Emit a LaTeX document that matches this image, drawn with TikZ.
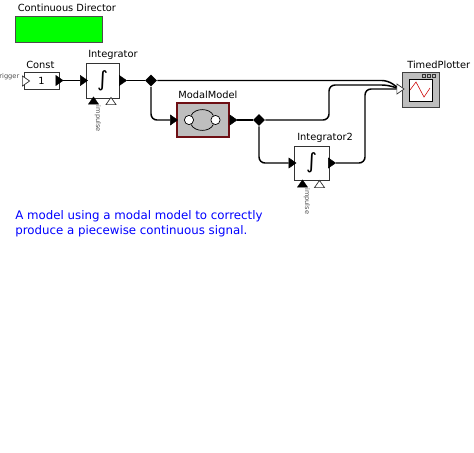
\documentclass[tikz,border=0pt]{standalone}
\usepackage{xcolor}
\usepackage{fontspec}
\setmainfont{DejaVu Sans}
\usetikzlibrary{shapes.geometric}
\definecolor{directorgreen}{RGB}{0,255,0}
\definecolor{modalred}{RGB}{110,15,20}
\definecolor{actorgray}{RGB}{190,190,190}
\tikzset{
  actorbox/.style={draw=black!80,fill=white,line width=0.4pt,inner sep=0pt},
  wire/.style={draw=black,line width=1.05pt,rounded corners=1.5mm},
  solidport/.style={isosceles triangle,isosceles triangle apex angle=70,draw=black,fill=black,inner sep=0pt,minimum height=1.8mm,minimum width=2mm,line width=0.3pt},
  openport/.style={solidport,fill=white,draw=black!80,line width=0.5pt},
  dot/.style={diamond,fill=black,inner sep=0pt,minimum size=3mm},
}
\newcommand{\tname}[4]{\node[anchor=west,inner sep=0pt,font=\fontsize{7}{8}\selectfont] (#1) at (#2,#3) {#4};}
\newcommand{\tport}[4]{\node[inner sep=0pt,font=\fontsize{4.7}{5}\selectfont,text=black!70,#4] (#1) at #2 {#3};}
\begin{document}
\begin{tikzpicture}[x=0.25mm,y=-0.25mm]
\useasboundingbox (0,0) rectangle (474,452);
% ---- director
\node[draw=black!70,fill=directorgreen,minimum width=21.75mm,minimum height=6.5mm,inner sep=0pt,line width=0.4pt] (director) at (58.5,29) {};
\tname{directorname}{17.5}{8}{Continuous Director}

% ---- actors
\node[actorbox,minimum width=8.75mm,minimum height=4.25mm,font=\fontsize{7}{8}\selectfont] (const) at (41.5,80.5) {1};
\node[actorbox,minimum width=8.25mm,minimum height=8.75mm,font=\fontsize{15}{15}\selectfont] (integrator) at (102.5,80.5) {∫};
\node[actorbox,minimum width=8.75mm,minimum height=8.5mm,font=\fontsize{15}{15}\selectfont] (integratorb) at (311.5,163) {∫};
\node[draw=modalred,fill=actorgray,line width=1.7pt,minimum width=13.1mm,minimum height=8.5mm,inner sep=0pt] (modal) at (203,120) {};
\node[draw=black!75,fill=actorgray,line width=0.6pt,minimum width=9.25mm,minimum height=8.75mm,inner sep=0pt] (plotter) at (420.5,89.5) {};
\node[draw=black,fill=white,line width=0.6pt,minimum width=5.75mm,minimum height=5.5mm,inner sep=0pt] (screen) at (420.5,90) {};

% ---- plotter icon
\coordinate (traceA) at (410,90);
\coordinate (traceB) at (416,82);
\coordinate (traceC) at (424,97);
\coordinate (traceD) at (430,88);
\draw[red!80!black,line width=0.4pt] (traceA) -- (traceB) -- (traceC) -- (traceD);
\foreach \i/\x in {1/424,2/429,3/434}
  \node[draw=black!80,fill=actorgray,line width=0.3pt,minimum size=0.8mm,inner sep=0pt] (button\i) at (\x,75.5) {};

% ---- modal icon
\node[circle,draw=black,fill=white,line width=0.5pt,minimum size=2.3mm,inner sep=0pt] (stateA) at (189,120) {};
\node[circle,draw=black,fill=white,line width=0.5pt,minimum size=2.3mm,inner sep=0pt] (stateB) at (215.5,120) {};
\draw[black,line width=0.5pt] (stateA) to[out=65,in=115] (stateB);
\draw[black,line width=0.5pt] (stateA) to[out=-65,in=-115] (stateB);

% ---- ports
\node[openport] (constin) at (25,81) {};
\node[solidport] (constout) at (58.5,80.5) {};
\node[solidport] (intin) at (83,80.5) {};
\node[solidport] (intout) at (122,80.5) {};
\node[solidport,shape border rotate=90] (intimp) at (93.5,101.5) {};
\node[openport,shape border rotate=90] (inttrig) at (111,102) {};
\node[solidport] (modalin) at (173,120) {};
\node[solidport] (modalout) at (232.5,120) {};
\node[solidport] (intbin) at (291.5,163) {};
\node[solidport] (intbout) at (331,163) {};
\node[solidport,shape border rotate=90] (intbimp) at (302.5,184.5) {};
\node[openport,shape border rotate=90] (intbtrig) at (319.5,185) {};
\node[openport] (plotin) at (399.5,89) {};

% ---- junctions
\node[dot] (juncA) at (151,80.5) {};
\node[dot] (juncB) at (259,120) {};

% ---- connector lines
\coordinate (bendA) at (388,80.5);
\coordinate (bendB) at (329,120);
\coordinate (bendC) at (329,85);
\coordinate (bendD) at (388,85);
\coordinate (bendE) at (365,163);
\coordinate (bendF) at (365,89);
\draw[wire] (constout) -- (intin);
\draw[wire] (intout) -- (juncA);
\draw[wire] (juncA) -- (bendA) -- (plotin);
\draw[wire] (juncA) |- (modalin);
\draw[wire] (modalout) -- (juncB);
\draw[wire] (juncB) -- (bendB) -- (bendC) -- (bendD) -- (plotin);
\draw[wire] (juncB) |- (intbin);
\draw[wire] (intbout) -- (bendE) -- (bendF) -- (plotin);

% ---- names
\tname{constname}{26}{65}{Const}
\tname{intname}{88}{55}{Integrator}
\tname{modalname}{178}{95}{ModalModel}
\tname{intbname}{297}{137.5}{Integrator2}
\tname{plottername}{407}{65}{TimedPlotter}
\tport{constlabel}{(19.5,76.5)}{trigger}{anchor=east}
\tport{intlabel}{(98,105.5)}{impulse}{rotate=-90,anchor=west}
\tport{intblabel}{(307,188)}{impulse}{rotate=-90,anchor=west}

% ---- annotation
\node[anchor=north west,align=left,inner sep=0pt,text=blue,font=\fontsize{8.4}{10.5}\selectfont] (note) at (15,210) {A model using a modal model to correctly\\produce a piecewise continuous signal.};
\end{tikzpicture}
\end{document}
